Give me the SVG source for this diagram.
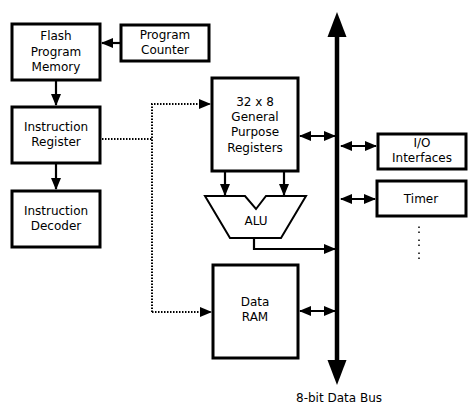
<svg xmlns="http://www.w3.org/2000/svg" width="474" height="406" viewBox="0 0 474 406">
<style>
.box{fill:#fff;stroke:#000;stroke-width:3}
.t{font-family:"DejaVu Sans",sans-serif;font-size:12px;fill:#000;text-anchor:middle}
.c{fill:none;stroke:#000;stroke-width:2.2}
.d{fill:none;stroke:#000;stroke-width:2;stroke-dasharray:1.5,1.5}
</style>
<defs>
<marker id="ah" markerUnits="userSpaceOnUse" markerWidth="12" markerHeight="10" refX="11" refY="5" orient="auto-start-reverse"><path d="M0,0 L12,5 L0,10 z" fill="#000"/></marker>
</defs>
<rect width="474" height="406" fill="#fff"/>
<g id="connectors">
<line class="c" x1="121" y1="43" x2="102" y2="43" marker-end="url(#ah)"/>
<line class="c" x1="56" y1="80" x2="56" y2="105" marker-end="url(#ah)"/>
<line class="c" x1="56" y1="163" x2="56" y2="189" marker-end="url(#ah)"/>
<polyline class="d" points="102,139 152,139"/>
<polyline class="d" points="152,312 152,104 210,104" marker-end="url(#ah)"/>
<line class="d" x1="152" y1="312" x2="211" y2="312" marker-end="url(#ah)"/>
<line class="c" x1="225" y1="171" x2="225" y2="195" marker-end="url(#ah)"/>
<line class="c" x1="284" y1="171" x2="284" y2="195" marker-end="url(#ah)"/>
<polyline class="c" points="254,238 254,249 335,249" marker-end="url(#ah)"/>
<line class="c" x1="300" y1="136" x2="335" y2="136" marker-start="url(#ah)" marker-end="url(#ah)"/>
<line class="c" x1="300" y1="311" x2="335" y2="311" marker-start="url(#ah)" marker-end="url(#ah)"/>
<line class="c" x1="341" y1="146" x2="376" y2="146" marker-start="url(#ah)" marker-end="url(#ah)"/>
<line class="c" x1="341" y1="199" x2="375" y2="199" marker-start="url(#ah)" marker-end="url(#ah)"/>
<line x1="419" y1="226.5" x2="419" y2="260" stroke="#000" stroke-width="1.5" stroke-dasharray="1.5,3.5,1.5,6.5"/>
</g>
<g id="bus">
<line x1="337" y1="34" x2="337" y2="362" stroke="#000" stroke-width="4.5"/>
<polygon points="337,12 327.5,37 346.5,37" fill="#000"/>
<polygon points="337,385 327.5,360 346.5,360" fill="#000"/>
<text class="t" x="339" y="402">8-bit Data Bus</text>
</g>
<g id="flash">
<rect class="box" x="12" y="24" width="88" height="56"/>
<text class="t" x="56" y="40">Flash</text>
<text class="t" x="56" y="56">Program</text>
<text class="t" x="56" y="71">Memory</text>
</g>
<g id="pc">
<rect class="box" x="121" y="25" width="88" height="36"/>
<text class="t" x="165" y="39">Program</text>
<text class="t" x="165" y="54">Counter</text>
</g>
<g id="ir">
<rect class="box" x="12" y="107" width="88" height="56"/>
<text class="t" x="56" y="131">Instruction</text>
<text class="t" x="56" y="146">Register</text>
</g>
<g id="id">
<rect class="box" x="12" y="191" width="88" height="56"/>
<text class="t" x="56" y="215">Instruction</text>
<text class="t" x="56" y="230">Decoder</text>
</g>
<g id="gpr">
<rect class="box" x="212" y="78" width="86" height="93"/>
<text class="t" x="255" y="106">32 x 8</text>
<text class="t" x="255" y="121">General</text>
<text class="t" x="255" y="136">Purpose</text>
<text class="t" x="255" y="152">Registers</text>
</g>
<g id="alu">
<polygon points="205,196 245,196 256,209 266,196 306,196 281,238 230,238" fill="#fff" stroke="#000" stroke-width="2"/>
<text class="t" x="256" y="225">ALU</text>
</g>
<g id="ram">
<rect class="box" x="213" y="265" width="85" height="93"/>
<text class="t" x="255" y="306">Data</text>
<text class="t" x="255" y="321">RAM</text>
</g>
<g id="io">
<rect class="box" x="378" y="134" width="88" height="35"/>
<text class="t" x="422" y="147">I/O</text>
<text class="t" x="422" y="162">Interfaces</text>
</g>
<g id="timer">
<rect class="box" x="377" y="181" width="89" height="35"/>
<text class="t" x="421" y="203">Timer</text>
</g>
</svg>
